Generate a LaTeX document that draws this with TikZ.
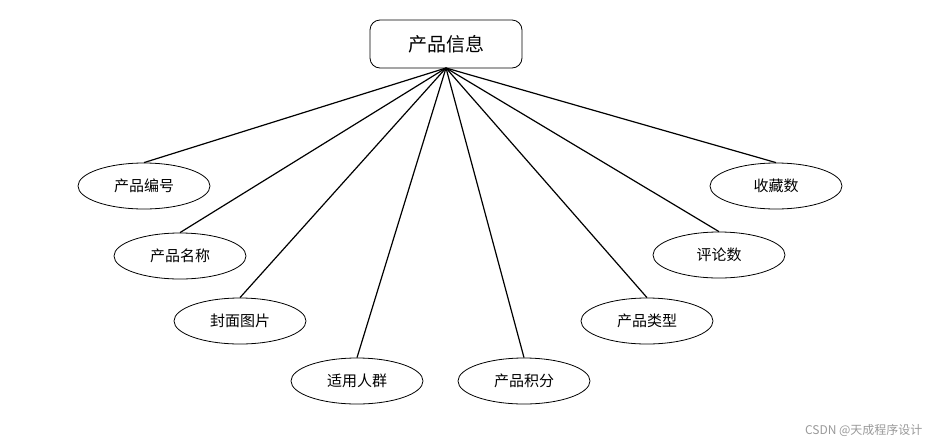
\documentclass[tikz,border=0pt]{standalone}
\usepackage{fontspec}
\newfontfamily\cjk{Noto Sans CJK SC}
\usetikzlibrary{shapes.geometric}
\begin{document}
\begin{tikzpicture}[x=1pt,y=-1pt,
  attr/.style={ellipse,draw,line width=0.8pt,minimum width=132pt,minimum height=46pt,inner sep=0pt,font=\cjk\fontsize{15}{15}\selectfont},
  topbox/.style={rectangle,rounded corners=10pt,draw,line width=0.8pt,minimum width=152pt,minimum height=48pt,font=\cjk\fontsize{19}{19}\selectfont},
  link/.style={line width=1.2pt}]
\useasboundingbox (0,0) rectangle (932,445);
\node[topbox] (top) at (446,44) {产品信息};
\coordinate (hub) at (446,68);
\node[attr] (a1) at (144,186) {产品编号};
\node[attr] (a2) at (180,256) {产品名称};
\node[attr] (a3) at (240,321) {封面图片};
\node[attr] (a4) at (357,381) {适用人群};
\node[attr] (a5) at (524,381) {产品积分};
\node[attr] (a6) at (647,321) {产品类型};
\node[attr] (a7) at (719,255) {评论数};
\node[attr] (a8) at (776,186) {收藏数};
\foreach \n in {a1,a2,a3,a4,a5,a6,a7,a8} \draw[link] (hub) -- (\n.north);
\node[anchor=south east,text=gray!80,font=\cjk\fontsize{12}{12}\selectfont] (wm) at (926,440) {CSDN @天成程序设计};
\end{tikzpicture}
\end{document}
